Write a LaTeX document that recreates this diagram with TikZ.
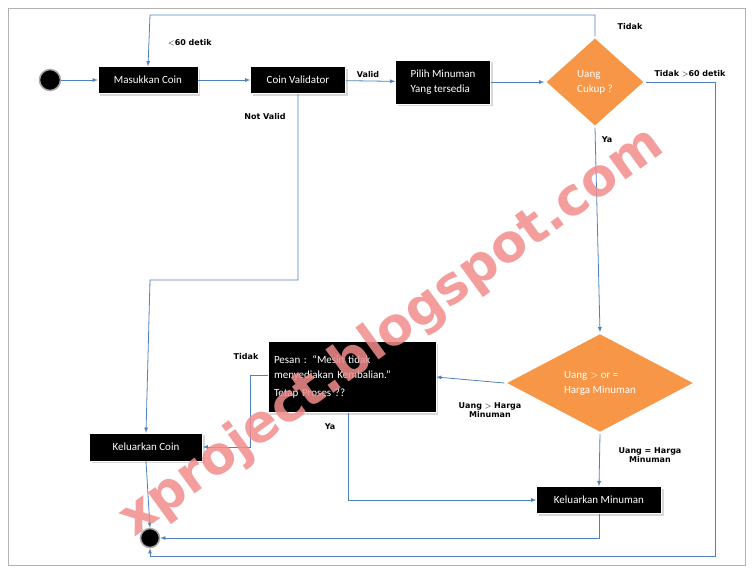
\documentclass[tikz,border=0pt]{standalone}
\usepackage{fontspec}
\setmainfont{Carlito}
\newfontfamily\lblfont{DejaVu Sans}
\usetikzlibrary{positioning, arrows, shapes.geometric, shadows}
\definecolor{flowblue}{RGB}{79,129,189}
\definecolor{decorange}{RGB}{247,150,70}
\definecolor{markpink}{RGB}{242,140,140}
\begin{document}
\begin{tikzpicture}[x=1pt, y=-1pt]

	\tikzstyle{act}=[fill=black, text=white, draw=white, font=\fontsize{11}{15}\selectfont, inner sep=4pt, drop shadow={shadow xshift=2pt, shadow yshift=-2pt, fill=gray!60}, align=left]
	\tikzstyle{dec}=[diamond, fill=decorange, draw=white, line width=1.5pt, text=white, font=\fontsize{11}{15}\selectfont, align=left, inner sep=0pt]
	\tikzstyle{flow}=[-latex, draw=flowblue, thick]
	\tikzstyle{lbl}=[font=\lblfont\bfseries\fontsize{8}{9}\selectfont, align=center]
	\tikzstyle{dot}=[circle, fill=black, draw=gray!70, line width=1.5pt, minimum size=21pt, inner sep=0pt]

	\useasboundingbox (0,0) rectangle (755,574);
	\draw[gray!60] (8,8) rectangle (745,565);

	% nodes
	\node[dot] (start) at (50,80) {};
	\node[act, minimum width=100pt, minimum height=27pt] (masuk) at (148,80) {Masukkan Coin};
	\node[act, minimum width=95pt, minimum height=27pt] (valid) at (298,80) {Coin Validator};
	\node[act, minimum width=95pt, minimum height=44pt] (pilih) at (443,82) {Pilih Minuman\\Yang tersedia};
	\node[dec, minimum width=100pt, minimum height=90pt] (cukup) at (595,82) {Uang\\Cukup ?};
	\node[dec, minimum width=190pt, minimum height=100pt] (harga) at (600,383) {Uang $>$ or =\\Harga Minuman};
	\node[act, minimum width=168pt, minimum height=71pt, text width=156pt] (pesan) at (352,377) {Pesan : “Mesin tidak\\menyediakan Kembalian.”\\[3pt]Tetap Proses ??};
	\node[act, minimum width=113pt, minimum height=28pt] (kcoin) at (146,447) {Keluarkan Coin};
	\node[act, minimum width=125pt, minimum height=27pt] (kmin) at (599,500) {Keluarkan Minuman};
	\node[dot, minimum size=19pt] (stop) at (150,538) {};

	% connectors
	\draw[flow] (start) -- (masuk);
	\draw[flow] (masuk) -- (valid);
	\draw[flow] (valid) -- node[lbl, above, pos=0.45] {Valid} (pilih);
	\draw[flow] (pilih.east) -- (cukup.west);
	\draw[flow] (cukup.north) |- (150,15) -- (masuk.north);
	\draw[flow] (cukup.east) -| (715,556) -| (stop.south);
	\draw[flow] (cukup.south) -- (harga.north);
	\draw[flow] (298,94) |- (150,280) -- (kcoin.north);
	\draw[flow] (harga.west) -- (pesan.east);
	\draw[flow] (268,375) -| (250,447) -- (kcoin.east);
	\draw[flow] (348,413) |- (kmin.west);
	\draw[flow] (harga.south) -- (kmin.north);
	\draw[flow] (kcoin.south) -- (stop.north);
	\draw[flow] (kmin.south) |- (stop.east);

	% labels
	\node[lbl] at (630,27) {Tidak};
	\node[lbl] at (190,43) {$<$60 detik};
	\node[lbl] at (690,74) {Tidak $>$60 detik};
	\node[lbl] at (607,140) {Ya};
	\node[lbl] at (265,117) {Not Valid};
	\node[lbl] at (490,410) {Uang $>$ Harga\\Minuman};
	\node[lbl] at (246,357) {Tidak};
	\node[lbl] at (330,427) {Ya};
	\node[lbl] at (650,455) {Uang = Harga\\Minuman};

	% watermark
	\node[text=markpink, opacity=0.85, font=\lblfont\bfseries\fontsize{52}{52}\selectfont, rotate=36] at (392,333) {xproject.blogspot.com};

\end{tikzpicture}
\end{document}
